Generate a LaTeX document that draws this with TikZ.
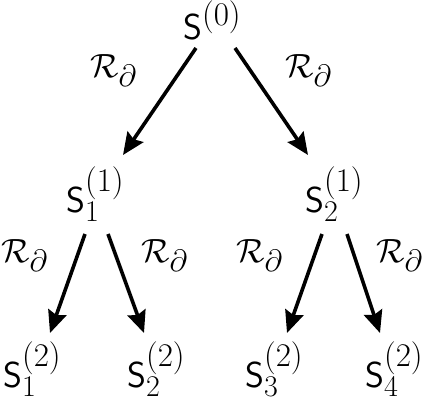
\documentclass[tikz,border=0pt]{standalone}
\usetikzlibrary{arrows.meta}
\begin{document}
\begin{tikzpicture}[x=1pt,y=-1pt,
  st/.style={inner sep=0pt,anchor=base west,font=\Huge},
  lb/.style={inner sep=0pt,anchor=base west,font=\Huge},
  arr/.style={line width=3.6pt,-{Stealth[length=22pt,width=19pt,inset=3pt]}}]
\newcommand\SN[2]{\scalebox{1.45}{$\mathsf{S}#1^{\scalebox{1.1}{$\scriptstyle(#2)$}}$}}
\newcommand\RD{\scalebox{1.35}{$\mathcal{R}_{\scalebox{1.1}{$\scriptstyle\partial$}}$}}
\useasboundingbox (0,0) rectangle (426,402);
\node[st] (s0) at (183,39) {\SN{}{0}};
\node[st] (s11) at (66,212) {\SN{_1}{1}};
\node[st] (s12) at (305,212) {\SN{_2}{1}};
\node[st] (s21) at (3,387) {\SN{_1}{2}};
\node[st] (s22) at (127,387) {\SN{_2}{2}};
\node[st] (s23) at (245,387) {\SN{_3}{2}};
\node[st] (s24) at (365,387) {\SN{_4}{2}};
\draw[arr] ([shift={(13,9)}]s0.base west) -- ([shift={(57,-57)}]s11.base west);
\draw[arr] ([shift={(52,9)}]s0.base west) -- ([shift={(3,-57)}]s12.base west);
\draw[arr] ([shift={(19,22)}]s11.base west) -- ([shift={(47,-54)}]s21.base west);
\draw[arr] ([shift={(42,22)}]s11.base west) -- ([shift={(17,-54)}]s22.base west);
\draw[arr] ([shift={(17,22)}]s12.base west) -- ([shift={(42,-54)}]s23.base west);
\draw[arr] ([shift={(42,22)}]s12.base west) -- ([shift={(15,-54)}]s24.base west);
\node[lb] (l1) at (90,77) {\RD};
\node[lb] (l2) at (285,77) {\RD};
\node[lb] (l3) at (1,262) {\RD};
\node[lb] (l4) at (141,262) {\RD};
\node[lb] (l5) at (236,262) {\RD};
\node[lb] (l6) at (376,262) {\RD};
\end{tikzpicture}
\end{document}
